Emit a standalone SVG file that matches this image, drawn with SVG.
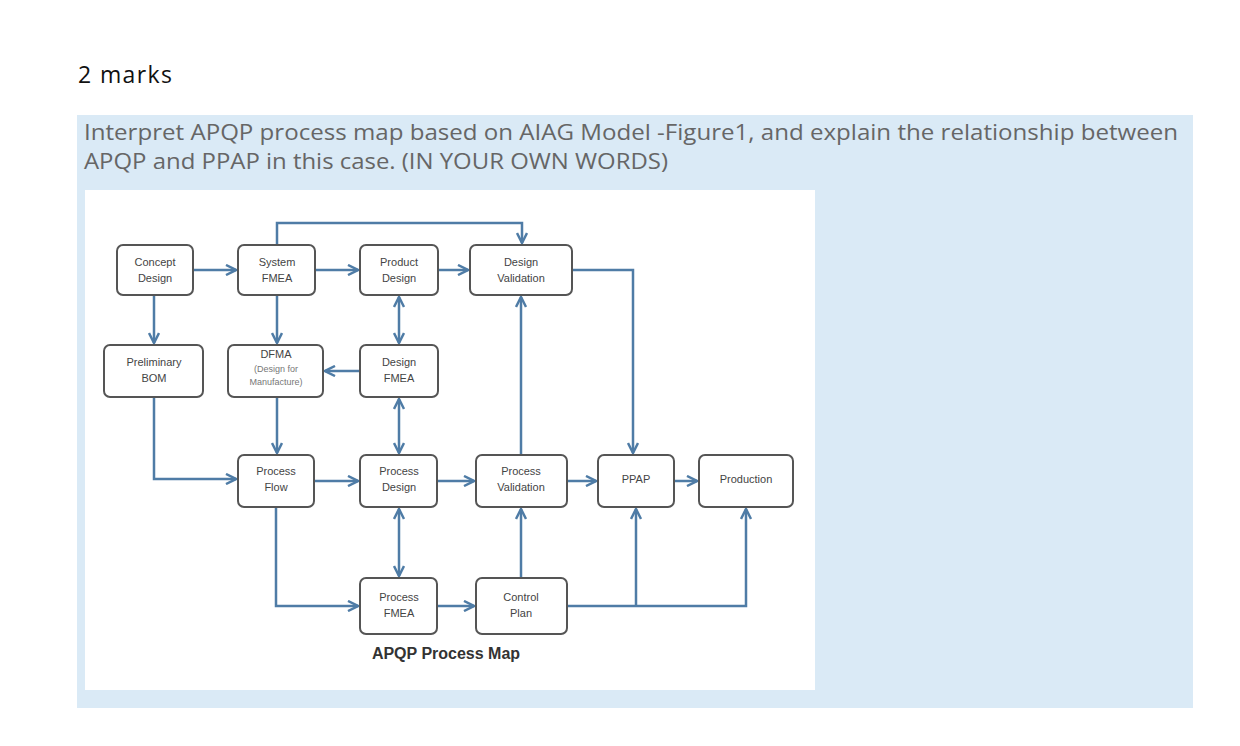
<svg xmlns="http://www.w3.org/2000/svg" width="1240" height="746" viewBox="0 0 1240 746">
<style>
.n rect{fill:#fff;stroke:#555;stroke-width:2}
.n text{font-family:"Liberation Sans",Arial,sans-serif;font-size:11px;fill:#444;text-anchor:middle}
.c path{fill:none;stroke:#4f7ca6;stroke-width:2.5}
.q{font-family:"Open Sans","Liberation Sans",sans-serif;font-size:21px;fill:#666}
</style>
<defs>
<marker id="a" viewBox="0 0 10 10" refX="9" refY="5" markerWidth="5" markerHeight="5" orient="auto-start-reverse"><path d="M1,1 L9,5 L1,9" fill="none" stroke="#4f7ca6" stroke-width="2"/></marker>
</defs>
<rect width="1240" height="746" fill="#fff"/>
<text x="78" y="83" font-family="'Open Sans','Liberation Sans',sans-serif" font-size="23" fill="#111" textLength="94">2 marks</text>
<rect x="77" y="115" width="1116" height="593" fill="#daeaf6"/>
<text class="q" x="84" y="140" textLength="1094" lengthAdjust="spacingAndGlyphs">Interpret APQP process map based on AIAG Model -Figure1, and explain the relationship between</text>
<text class="q" x="84" y="169" textLength="584" lengthAdjust="spacingAndGlyphs">APQP and PPAP in this case. (IN YOUR OWN WORDS)</text>
<rect x="85" y="190" width="730" height="500" fill="#fff"/>
<g class="c">
<path d="M277,245 V223 H522 V243" marker-end="url(#a)"/>
<path d="M193,270 H236" marker-end="url(#a)"/>
<path d="M315,270 H358" marker-end="url(#a)"/>
<path d="M438,270 H468" marker-end="url(#a)"/>
<path d="M572,270 H633 V453" marker-end="url(#a)"/>
<path d="M154,295 V343" marker-end="url(#a)"/>
<path d="M277,295 V343" marker-end="url(#a)"/>
<path d="M399,297 V343" marker-start="url(#a)" marker-end="url(#a)"/>
<path d="M360,371 H325" marker-end="url(#a)"/>
<path d="M399,399 V453" marker-start="url(#a)" marker-end="url(#a)"/>
<path d="M277,397 V453" marker-end="url(#a)"/>
<path d="M154,397 V479 H236" marker-end="url(#a)"/>
<path d="M314,481 H358" marker-end="url(#a)"/>
<path d="M437,481 H474" marker-end="url(#a)"/>
<path d="M567,481 H596" marker-end="url(#a)"/>
<path d="M674,481 H697" marker-end="url(#a)"/>
<path d="M521,455 V297" marker-end="url(#a)"/>
<path d="M399,509 V576" marker-start="url(#a)" marker-end="url(#a)"/>
<path d="M521,578 V509" marker-end="url(#a)"/>
<path d="M276,507 V606 H358" marker-end="url(#a)"/>
<path d="M437,606 H474" marker-end="url(#a)"/>
<path d="M567,606 H746 V509" marker-end="url(#a)"/>
<path d="M636,606 V509" marker-end="url(#a)"/>
</g>
<g id="concept" class="n"><rect x="117" y="245" width="76" height="50" rx="6"/><text x="155" y="266">Concept</text><text x="155" y="282">Design</text></g>
<g id="sysfmea" class="n"><rect x="238" y="245" width="77" height="50" rx="6"/><text x="277" y="266">System</text><text x="277" y="282">FMEA</text></g>
<g id="proddesign" class="n"><rect x="360" y="245" width="78" height="50" rx="6"/><text x="399" y="266">Product</text><text x="399" y="282">Design</text></g>
<g id="designval" class="n"><rect x="470" y="245" width="102" height="50" rx="6"/><text x="521" y="266">Design</text><text x="521" y="282">Validation</text></g>
<g id="bom" class="n"><rect x="104" y="345" width="99" height="52" rx="6"/><text x="154" y="366">Preliminary</text><text x="154" y="382">BOM</text></g>
<g id="dfma" class="n"><rect x="228" y="345" width="95" height="52" rx="6"/><text x="276" y="358">DFMA</text><text x="276" y="372" style="font-size:9px;fill:#777">(Design for</text><text x="276" y="385" style="font-size:9px;fill:#777">Manufacture)</text></g>
<g id="designfmea" class="n"><rect x="360" y="345" width="78" height="52" rx="6"/><text x="399" y="366">Design</text><text x="399" y="382">FMEA</text></g>
<g id="procflow" class="n"><rect x="238" y="455" width="76" height="52" rx="6"/><text x="276" y="475">Process</text><text x="276" y="491">Flow</text></g>
<g id="procdesign" class="n"><rect x="360" y="455" width="77" height="52" rx="6"/><text x="399" y="475">Process</text><text x="399" y="491">Design</text></g>
<g id="procval" class="n"><rect x="476" y="455" width="91" height="52" rx="6"/><text x="521" y="475">Process</text><text x="521" y="491">Validation</text></g>
<g id="ppap" class="n"><rect x="598" y="455" width="76" height="52" rx="6"/><text x="636" y="483">PPAP</text></g>
<g id="production" class="n"><rect x="699" y="455" width="94" height="52" rx="6"/><text x="746" y="483">Production</text></g>
<g id="procfmea" class="n"><rect x="360" y="578" width="77" height="56" rx="6"/><text x="399" y="601">Process</text><text x="399" y="617">FMEA</text></g>
<g id="control" class="n"><rect x="476" y="578" width="91" height="56" rx="6"/><text x="521" y="601">Control</text><text x="521" y="617">Plan</text></g>
<text x="446" y="659" font-family="'Liberation Sans',Arial,sans-serif" font-size="16" font-weight="bold" fill="#333" text-anchor="middle">APQP Process Map</text>
</svg>
